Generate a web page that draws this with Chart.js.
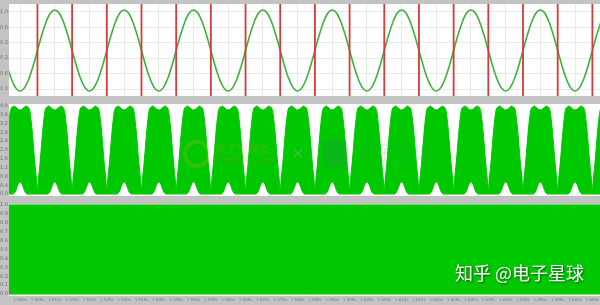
<!DOCTYPE html>
<html>
<head>
<meta charset="utf-8">
<script src="https://cdn.jsdelivr.net/npm/chart.js@4/dist/chart.umd.min.js"></script>
<style>
	body { margin: 0; background: #c3c3c3; width: 600px; height: 305px; overflow: hidden; position: relative; }
	canvas { position: absolute; left: 0; }
	.mark { position: absolute; white-space: nowrap; font-family: "Noto Sans CJK SC", sans-serif; }
	#wm { left: 455px; top: 259px; font-size: 18px; color: #fff; text-shadow: 1px 1px 2px rgba(0, 0, 0, 0.55); }
</style>
</head>
<body>
<canvas id="chart1" width="600" height="100" style="top:0"></canvas>
<canvas id="chart2" width="600" height="100" style="top:100px"></canvas>
<canvas id="chart3" width="600" height="105" style="top:200px"></canvas>

<div class="mark" style="left:183px;top:140px;width:20px;height:20px;border:4px solid rgba(255,170,40,0.18);border-radius:50%"></div>
<div class="mark" style="left:215px;top:140px;font-size:11px;color:rgba(240,150,40,0.22)">电子发烧友</div>
<div class="mark" style="left:213px;top:156px;font:bold 8px 'DejaVu Sans';color:rgba(200,120,40,0.22)">DianYuan.com</div>
<div class="mark" style="left:291px;top:142px;font-size:14px;color:rgba(170,170,170,0.45)">×</div>
<div class="mark" style="left:323px;top:139px;width:25px;height:28px;border-radius:7px;background:rgba(40,140,90,0.25)"></div>
<div class="mark" style="left:356px;top:138px;font-size:19px;color:rgba(60,160,110,0.2)">电子星球</div>
<div class="mark" id="wm">知乎 @电子星球</div>

<script>
// time axis in ms
const tStart = 1496.8;
const tEnd = 1667.2;

// red markers sit on every zero crossing of the sine
const redLines = [1505, 1515, 1525, 1535, 1545, 1555, 1565, 1575, 1585, 1595, 1605, 1615, 1625, 1635, 1645, 1655, 1665];
// start of every half cycle (1495 is just off the left edge)
const halfCycles = [1495].concat(redLines);
const cycleEnd = 1675;

// one half cycle of the sine
const sineOffsets = [0, 1.25, 2.5, 3.75, 5, 6.25, 7.5, 8.75];
const sineHalf = [0, 0.4, 0.74, 0.97, 1.05, 0.97, 0.74, 0.4];

// one lobe of the middle panel (upper and lower envelope)
const lobeOffsets = [0, 0.3, 0.8, 1.6, 2.3, 3.0, 3.2, 3.6, 3.9, 4.3, 4.6, 5.0, 5.4, 5.7, 6.1, 6.4, 6.8, 7.0, 7.7, 8.4, 9.2, 9.7];
const lobeTop = [0.2, 0.7, 1.5, 3.0, 3.85, 3.97, 4.0, 3.97, 3.93, 3.87, 3.84, 3.82, 3.84, 3.87, 3.93, 3.97, 4.0, 3.97, 3.85, 3.0, 1.5, 0.7];
const lobeBottom = [0, 0, 0, 0, 0, 0, 0.02, 0.1, 0.22, 0.4, 0.5, 0.55, 0.5, 0.4, 0.22, 0.1, 0.02, 0, 0, 0, 0, 0];

// bottom panel is solid
const bottomTimes = [tStart, tEnd];
const bottomHigh = [1.0, 1.0];
const bottomLow = [0, 0];

const green = "#00c800";

const sinePoints = [];
halfCycles.forEach(function (start, i) {
	const sign = i % 2 === 0 ? -1 : 1;
	sineOffsets.forEach(function (off, k) {
		sinePoints.push({ x: start + off, y: sign * sineHalf[k] });
	});
});
sinePoints.push({ x: cycleEnd, y: 0 });

const redPoints = [];
redLines.forEach(function (t) {
	redPoints.push({ x: t, y: -2 }, { x: t, y: 2 }, { x: t, y: null });
});

const lobeUpper = [];
const lobeLower = [];
halfCycles.forEach(function (start) {
	lobeOffsets.forEach(function (off, k) {
		lobeUpper.push({ x: start + off, y: lobeTop[k] });
		lobeLower.push({ x: start + off, y: lobeBottom[k] });
	});
});
lobeUpper.push({ x: cycleEnd, y: lobeTop[0] });
lobeLower.push({ x: cycleEnd, y: lobeBottom[0] });

const whiteArea = {
	id: "whiteArea",
	beforeDraw: function (chart) {
		const a = chart.chartArea;
		chart.ctx.save();
		chart.ctx.fillStyle = "#ffffff";
		chart.ctx.fillRect(a.left, a.top, a.right - a.left, a.bottom - a.top);
		chart.ctx.restore();
	},
};

const tickFont = { family: "DejaVu Sans", size: 5 };

function yAxis(min, max, step, grid) {
	return {
		min: min,
		max: max,
		afterFit: function (s) { s.width = 9; },
		border: { display: false },
		grid: { display: grid, color: "#e9e9e9", drawTicks: false },
		ticks: {
			stepSize: step,
			includeBounds: false,
			padding: 1,
			color: "#6e6e6e",
			font: tickFont,
			callback: function (v) { return v.toFixed(1); },
		},
	};
}

function xAxis(showLabels, grid) {
	return {
		type: "linear",
		min: tStart,
		max: tEnd,
		afterFit: function (s) {
			s.height = showLabels ? 9 : 0;
			s.paddingLeft = 0;
			s.paddingRight = 0;
		},
		border: { display: false },
		grid: { display: grid, color: "#e9e9e9", drawTicks: false },
		ticks: {
			display: showLabels,
			stepSize: 5,
			includeBounds: false,
			autoSkip: false,
			maxRotation: 0,
			padding: 2,
			color: "#7a7a7a",
			font: { family: "DejaVu Sans", size: 4 },
			callback: function (v) { return (v / 1000).toFixed(3) + "s"; },
		},
	};
}

function baseOptions(padTop, padBottom, x, y) {
	return {
		responsive: false,
		animation: false,
		events: [],
		layout: { padding: { top: padTop, bottom: padBottom, left: 0, right: 0 } },
		plugins: { legend: { display: false }, tooltip: { enabled: false } },
		elements: { point: { radius: 0 } },
		scales: { x: x, y: y },
	};
}

new Chart(document.getElementById("chart1"), {
	type: "line",
	data: {
		datasets: [
			{
				data: sinePoints,
				borderColor: "#3fb03f",
				borderWidth: 1.6,
				cubicInterpolationMode: "monotone",
				fill: false,
				order: 2,
			},
			{
				data: redPoints,
				borderColor: "#d63a3a",
				borderWidth: 1.8,
				spanGaps: false,
				fill: false,
				order: 1,
			},
		],
	},
	options: baseOptions(4, 3, xAxis(false, true), yAxis(-1.18, 1.205, 0.2, true)),
	plugins: [whiteArea],
});

new Chart(document.getElementById("chart2"), {
	type: "line",
	data: {
		datasets: [
			{
				data: lobeLower,
				borderColor: green,
				borderWidth: 1,
				cubicInterpolationMode: "monotone",
				fill: false,
			},
			{
				data: lobeUpper,
				borderColor: green,
				borderWidth: 1,
				backgroundColor: green,
				cubicInterpolationMode: "monotone",
				fill: "-1",
			},
		],
	},
	options: baseOptions(4, 4, xAxis(false, false), yAxis(-0.09, 4.09, 0.4, false)),
	plugins: [whiteArea],
});

new Chart(document.getElementById("chart3"), {
	type: "line",
	data: {
		labels: bottomTimes,
		datasets: [
			{
				data: bottomTimes.map(function (t, i) { return { x: t, y: bottomLow[i] }; }),
				borderColor: green,
				borderWidth: 1,
				fill: false,
			},
			{
				data: bottomTimes.map(function (t, i) { return { x: t, y: bottomHigh[i] }; }),
				borderColor: green,
				borderWidth: 1,
				backgroundColor: green,
				fill: "-1",
			},
		],
	},
	options: baseOptions(4, 0, xAxis(true, false), yAxis(-0.022, 1.011, 0.1, false)),
	plugins: [whiteArea],
});
</script>
</body>
</html>
